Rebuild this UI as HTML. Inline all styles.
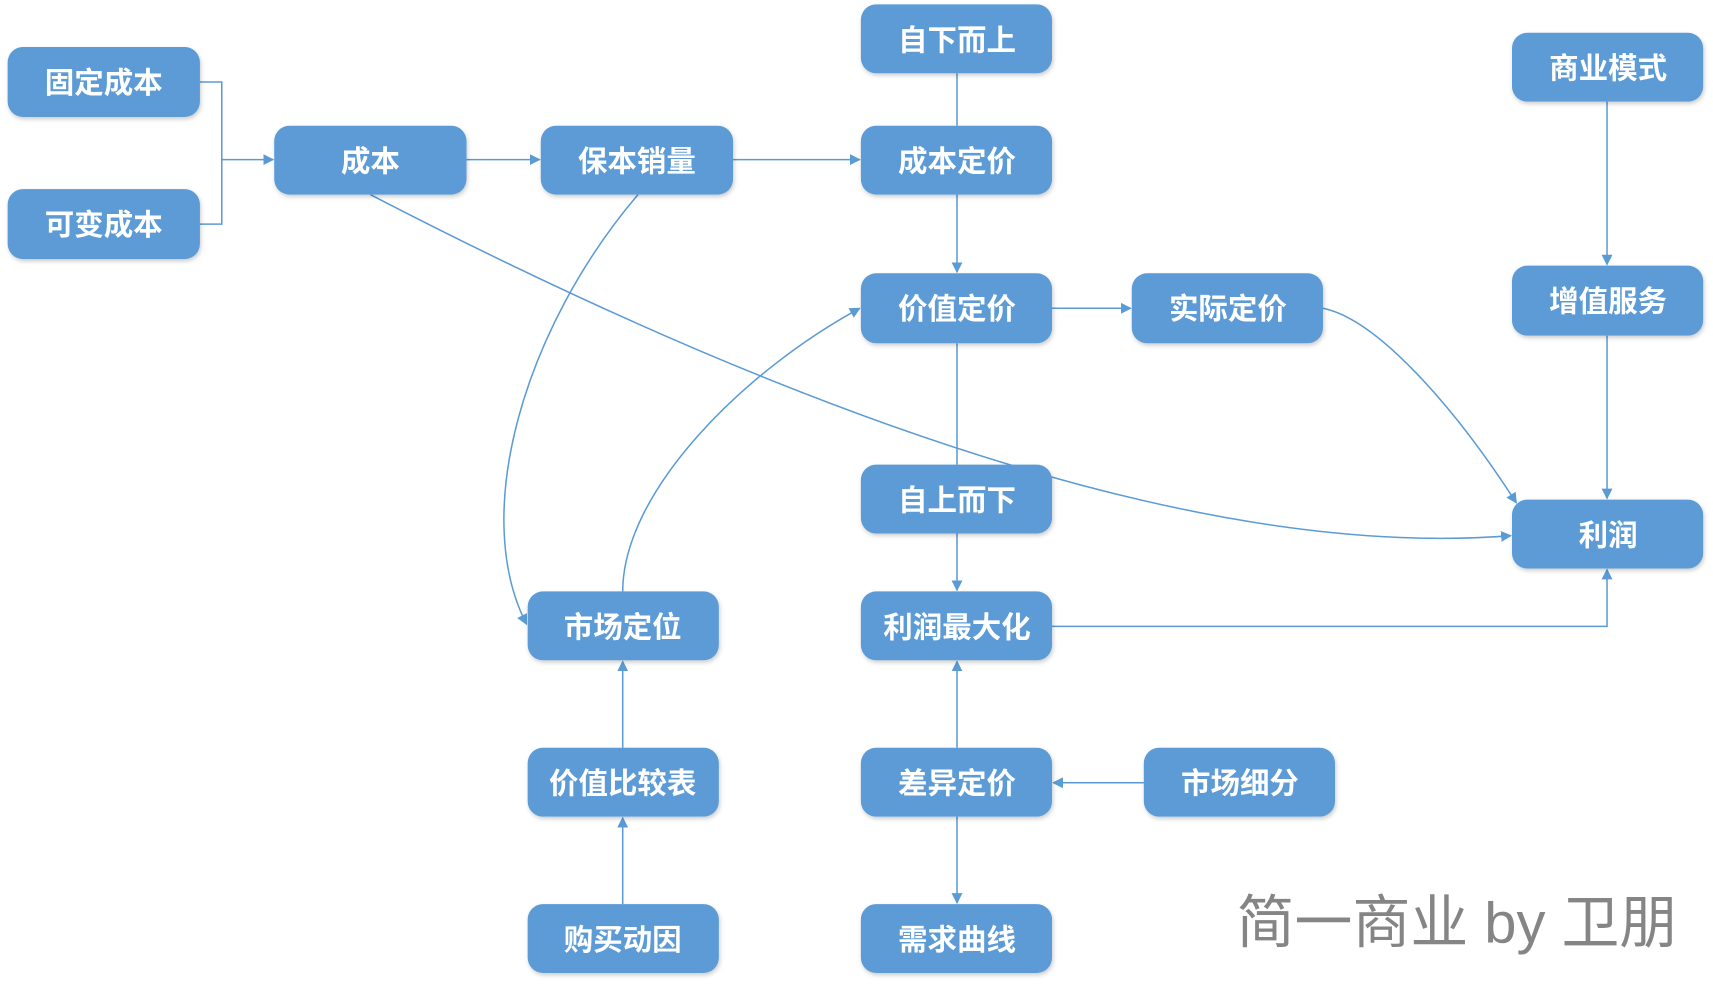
<!DOCTYPE html>
<html><head><meta charset="utf-8"><style>
html,body{margin:0;padding:0;background:#fff;}
svg{display:block;}
text{font-family:"Liberation Sans","Noto Sans CJK SC",sans-serif;}
</style></head><body>
<svg width="1713" height="985" viewBox="0 0 1568 901" preserveAspectRatio="none" xmlns="http://www.w3.org/2000/svg">
<defs>
<marker id="a" markerWidth="10" markerHeight="10" refX="9" refY="5" orient="auto" markerUnits="userSpaceOnUse">
<path d="M0,0 L10,5 L0,10 z" fill="#5b9bd5"/></marker>
<filter id="s" x="-10%" y="-10%" width="120%" height="130%"><feDropShadow dx="1" dy="2" stdDeviation="2" flood-color="#000" flood-opacity="0.2"/></filter>
</defs>
<g fill="none" stroke="#5b9bd5" stroke-width="1.4">
<path d="M183,75 H203 V205 H183"/>
<path d="M203,146 H250" marker-end="url(#a)"/>
<path d="M427,146 H494" marker-end="url(#a)"/>
<path d="M671,146 H787" marker-end="url(#a)"/>
<path d="M876,67 V115"/>
<path d="M876,178 V249" marker-end="url(#a)"/>
<path d="M963,282 H1035" marker-end="url(#a)"/>
<path d="M876,314 V425"/>
<path d="M876,488 V540" marker-end="url(#a)"/>
<path d="M963,573 H1471 V521" marker-end="url(#a)"/>
<path d="M1471,93 V242" marker-end="url(#a)"/>
<path d="M1471,307 V456" marker-end="url(#a)"/>
<path d="M1211,282 C1260,292 1330,370 1388,460" marker-end="url(#a)"/>
<path d="M339,178 Q1000,520 1383,490" marker-end="url(#a)"/>
<path d="M584,178 C480,300 430,470 482,571" marker-end="url(#a)"/>
<path d="M570,541 C570,450 680,340 787,282" marker-end="url(#a)"/>
<path d="M570,684 V605" marker-end="url(#a)"/>
<path d="M570,827 V748" marker-end="url(#a)"/>
<path d="M876,684 V605" marker-end="url(#a)"/>
<path d="M1047,716 H964" marker-end="url(#a)"/>
<path d="M876,747 V826" marker-end="url(#a)"/>
</g>
<g fill="#5b9bd5" filter="url(#s)">
<rect x="7" y="43" width="176" height="64" rx="14"/>
<rect x="7" y="173" width="176" height="64" rx="14"/>
<rect x="251" y="115" width="176" height="63" rx="14"/>
<rect x="495" y="115" width="176" height="63" rx="14"/>
<rect x="788" y="4" width="175" height="63" rx="14"/>
<rect x="788" y="115" width="175" height="63" rx="14"/>
<rect x="788" y="250" width="175" height="64" rx="14"/>
<rect x="1036" y="250" width="175" height="64" rx="14"/>
<rect x="1384" y="30" width="175" height="63" rx="14"/>
<rect x="1384" y="243" width="175" height="64" rx="14"/>
<rect x="1384" y="457" width="175" height="63" rx="14"/>
<rect x="788" y="425" width="175" height="63" rx="14"/>
<rect x="788" y="541" width="175" height="63" rx="14"/>
<rect x="483" y="541" width="175" height="63" rx="14"/>
<rect x="483" y="684" width="175" height="63" rx="14"/>
<rect x="788" y="684" width="175" height="63" rx="14"/>
<rect x="1047" y="684" width="175" height="63" rx="14"/>
<rect x="483" y="827" width="175" height="63" rx="14"/>
<rect x="788" y="827" width="175" height="63" rx="14"/>
</g>
<g fill="#fff" font-size="27" font-weight="bold" text-anchor="middle">
<text x="95" y="85">固定成本</text>
<text x="95" y="215">可变成本</text>
<text x="339" y="157">成本</text>
<text x="583" y="157">保本销量</text>
<text x="876" y="46">自下而上</text>
<text x="876" y="157">成本定价</text>
<text x="876" y="292">价值定价</text>
<text x="1124" y="292">实际定价</text>
<text x="1472" y="72">商业模式</text>
<text x="1472" y="285">增值服务</text>
<text x="1472" y="499">利润</text>
<text x="876" y="467">自上而下</text>
<text x="876" y="583">利润最大化</text>
<text x="570" y="583">市场定位</text>
<text x="570" y="726">价值比较表</text>
<text x="876" y="726">差异定价</text>
<text x="1135" y="726">市场细分</text>
<text x="570" y="869">购买动因</text>
<text x="876" y="869">需求曲线</text>
</g>
<text x="1132" y="862" font-size="53" fill="#858585">简一商业 by 卫朋</text>
</svg>
</body></html>
